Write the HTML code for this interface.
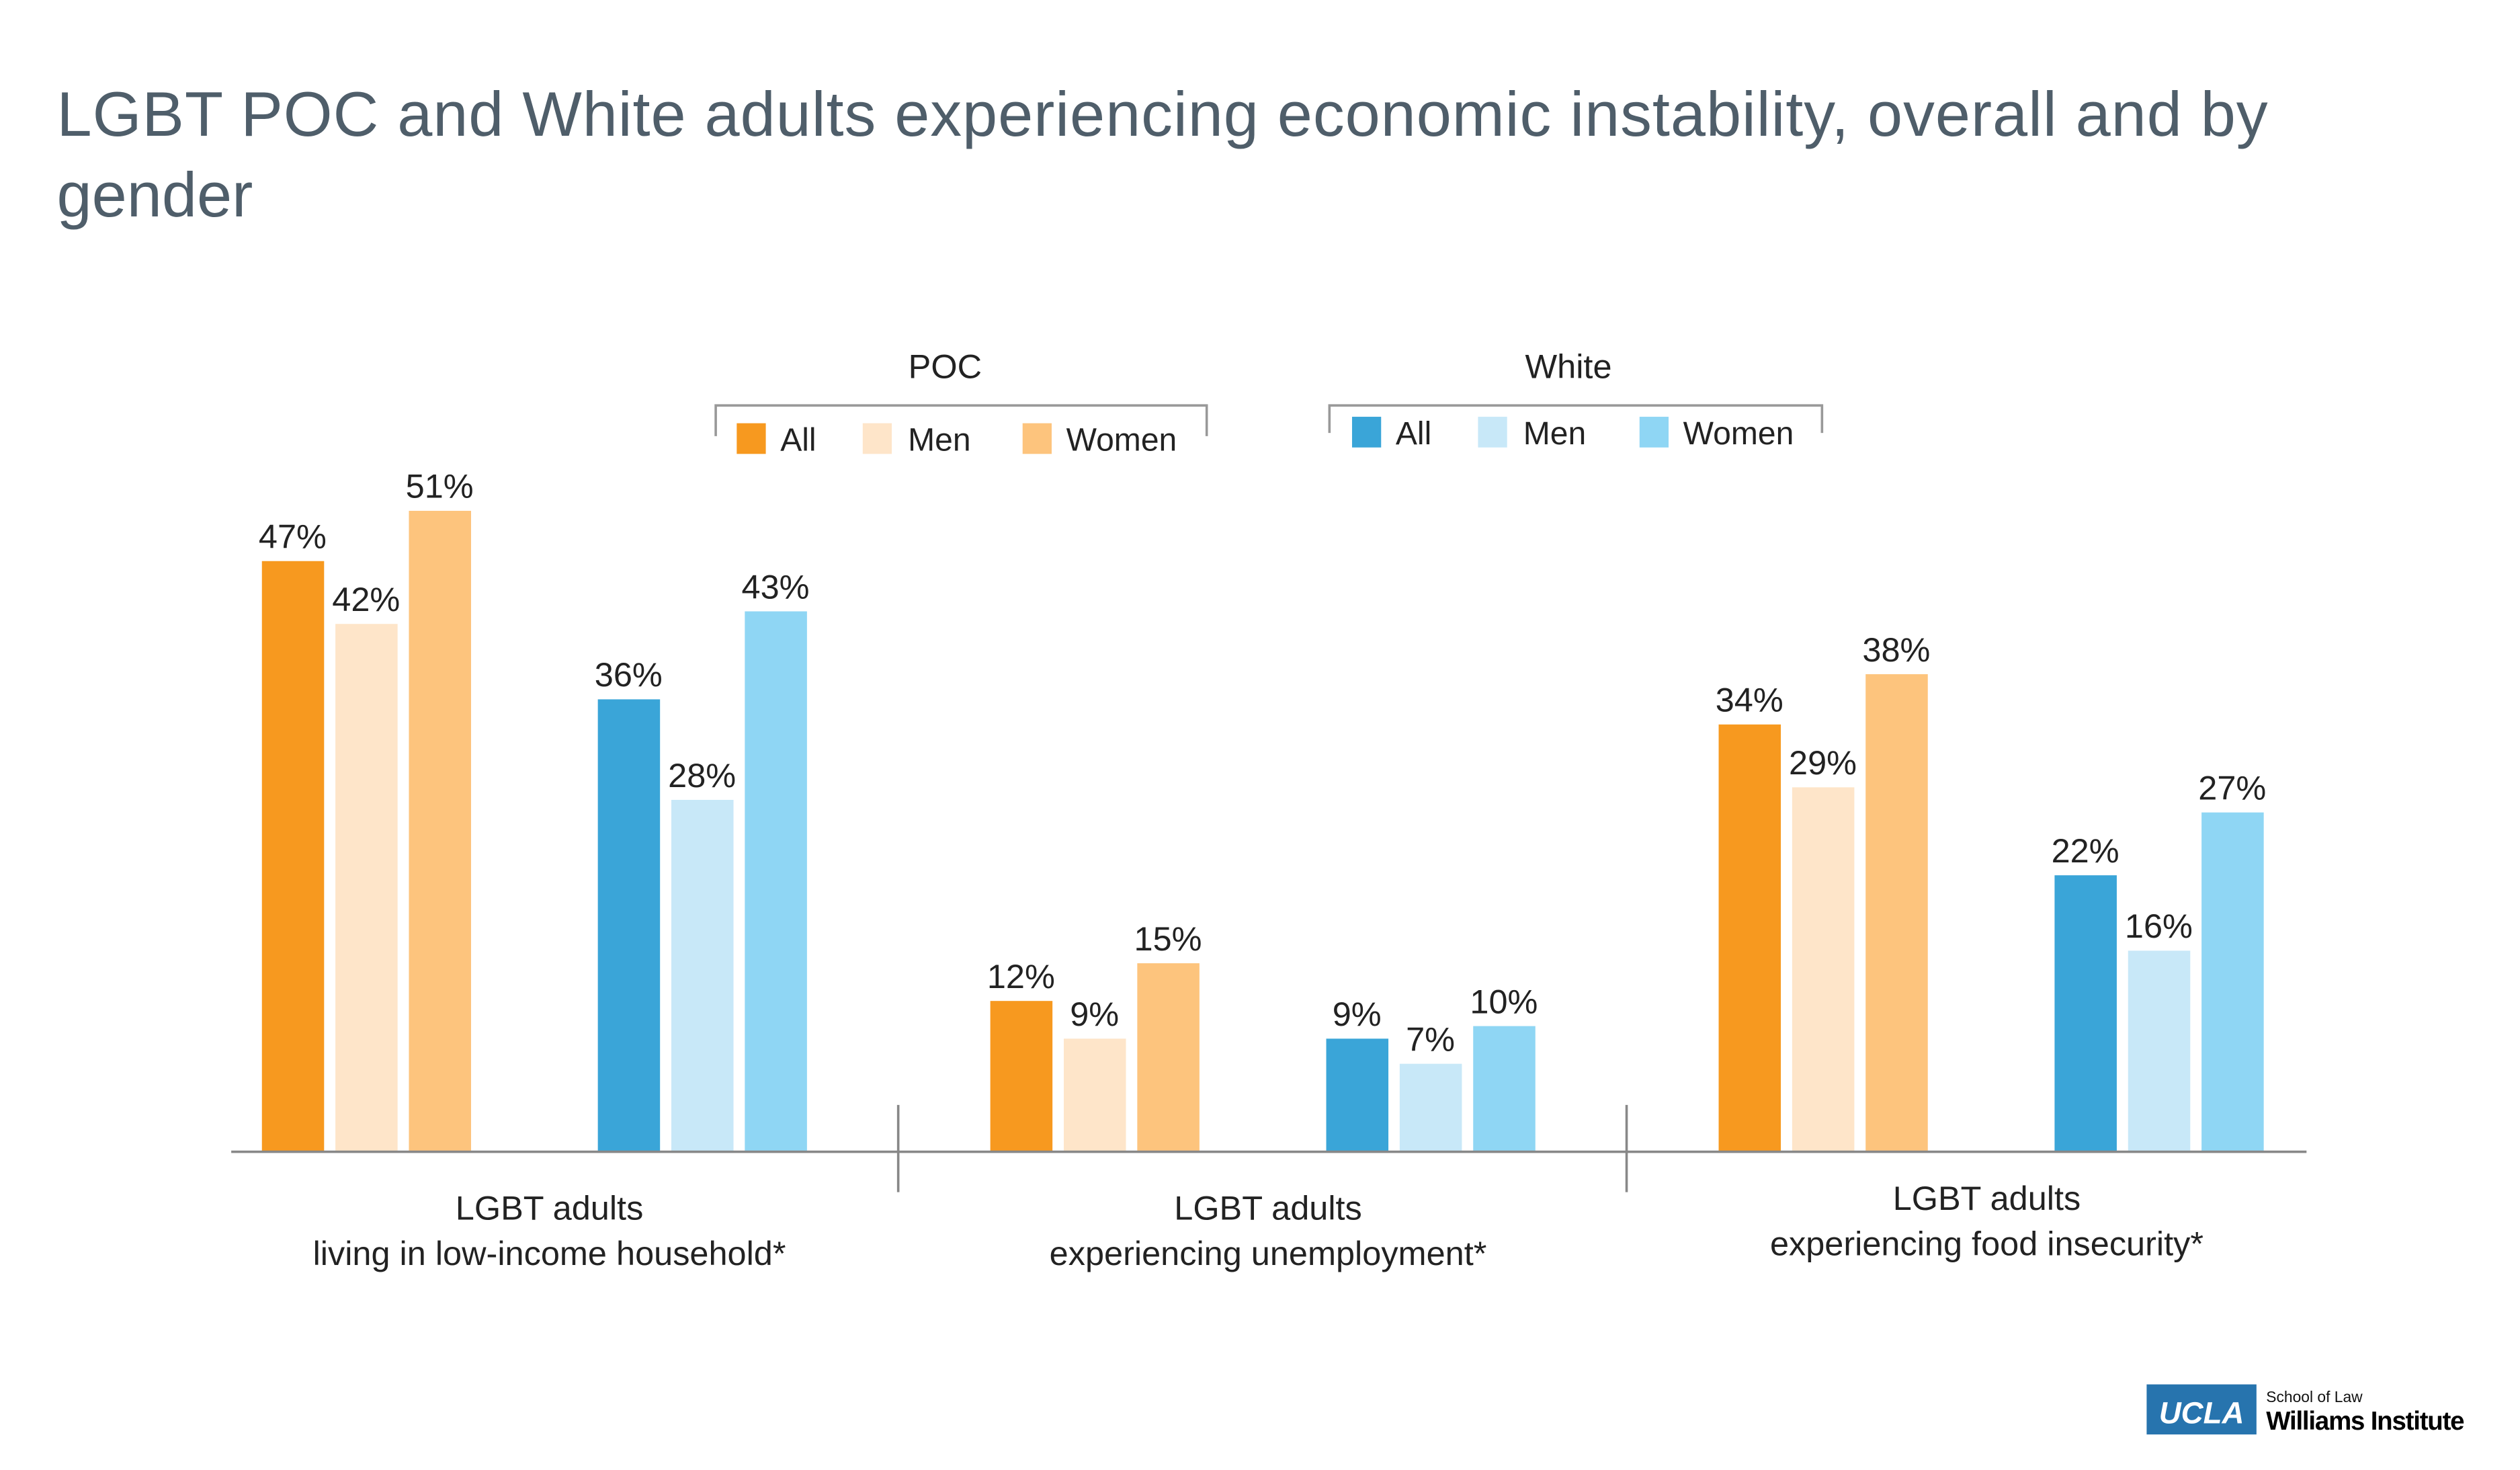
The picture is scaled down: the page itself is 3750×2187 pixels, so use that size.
<!DOCTYPE html>
<html><head><meta charset="utf-8"><style>
html,body{margin:0;padding:0;background:#fff;}
svg{display:block;font-family:"Liberation Sans",sans-serif;}
</style></head><body>
<svg id="chart" width="3750" height="2187" viewBox="0 0 1560 910" xmlns="http://www.w3.org/2000/svg">
<text x="35" y="84" font-size="39" fill="#4f5e6a" textLength="1369" lengthAdjust="spacing">LGBT POC and White adults experiencing economic instability, overall and by</text>
<text x="35" y="134" font-size="39" fill="#4f5e6a">gender</text>
<g>
<text x="585" y="234" font-size="21" text-anchor="middle" fill="#222">POC</text>
<path d="M443,270 V251 H747 V270" fill="none" stroke="#999" stroke-width="1.5"/>
<rect x="456" y="262" width="18" height="19" fill="#f7991f"/><text x="483" y="279" font-size="20" fill="#222">All</text>
<rect x="534" y="262" width="18" height="19" fill="#fee5c9"/><text x="562" y="279" font-size="20" fill="#222">Men</text>
<rect x="633" y="262" width="18" height="19" fill="#fdc47d"/><text x="660" y="279" font-size="20" fill="#222">Women</text>
</g>
<g>
<text x="971" y="234" font-size="21" text-anchor="middle" fill="#222">White</text>
<path d="M823,268 V251 H1128 V268" fill="none" stroke="#999" stroke-width="1.5"/>
<rect x="837" y="258" width="18" height="19" fill="#3aa5d8"/><text x="864" y="275" font-size="20" fill="#222">All</text>
<rect x="915" y="258" width="18" height="19" fill="#c8e8f8"/><text x="943" y="275" font-size="20" fill="#222">Men</text>
<rect x="1015" y="258" width="18" height="19" fill="#8fd6f4"/><text x="1042" y="275" font-size="20" fill="#222">Women</text>
</g>
<g id="bars"></g>
<line x1="143" y1="713" x2="1428" y2="713" stroke="#888" stroke-width="1.5"/>
<line x1="556" y1="684" x2="556" y2="738" stroke="#888" stroke-width="1.5"/>
<line x1="1007" y1="684" x2="1007" y2="738" stroke="#888" stroke-width="1.5"/>
<g font-size="21" fill="#222" text-anchor="middle">
<text x="340" y="755">LGBT adults<tspan x="340" dy="28">living in low-income household*</tspan></text>
<text x="785" y="755">LGBT adults<tspan x="785" dy="28">experiencing unemployment*</tspan></text>
<text x="1230" y="749">LGBT adults<tspan x="1230" dy="28">experiencing food insecurity*</tspan></text>
</g>
<g>
<rect x="1329" y="857" width="68" height="31" fill="#2774ae"/>
<text x="1363" y="881" font-size="19" font-weight="bold" font-style="italic" fill="#fff" text-anchor="middle">UCLA</text>
<text x="1403" y="868" font-size="9.5" fill="#111">School of Law</text>
<text x="1403" y="885" font-size="16" font-weight="bold" fill="#000" letter-spacing="-0.5">Williams Institute</text>
</g>
</svg>
<script>
const categories = ["low-income", "unemployment", "food-insecurity"];
const series = ["poc-all", "poc-men", "poc-women", "white-all", "white-men", "white-women"];
const pocAll = [47, 12, 34];
const pocMen = [42, 9, 29];
const pocWomen = [51, 15, 38];
const whiteAll = [36, 9, 22];
const whiteMen = [28, 7, 16];
const whiteWomen = [43, 10, 27];
const labelsPct = ["%"];

const NS = "http://www.w3.org/2000/svg";
const colors = ["#f7991f", "#fee5c9", "#fdc47d", "#3aa5d8", "#c8e8f8", "#8fd6f4"];
const values = [pocAll, pocMen, pocWomen, whiteAll, whiteMen, whiteWomen];
const baseY = 713, perUnit = 7.78;
function yScale(v) { return baseY - v * perUnit; }
function xScale(ci, si) {
  const groupStart = 162 + ci * 451;
  const sub = si < 3 ? 0 : 208;
  return groupStart + sub + (si % 3) * 45.5;
}
const g = document.getElementById("bars");
values.forEach((arr, si) => {
  arr.forEach((v, ci) => {
    const x = xScale(ci, si), y = yScale(v);
    const r = document.createElementNS(NS, "rect");
    r.setAttribute("x", x); r.setAttribute("y", y);
    r.setAttribute("width", 38.5); r.setAttribute("height", baseY - y);
    r.setAttribute("fill", colors[si]);
    
    
    g.appendChild(r);
    const t = document.createElementNS(NS, "text");
    t.setAttribute("x", x + 19); t.setAttribute("y", y - 8);
    t.setAttribute("font-size", "21"); t.setAttribute("fill", "#222");
    t.setAttribute("text-anchor", "middle");
    t.textContent = v + labelsPct[0];
    
    
    g.appendChild(t);
  });
});
</script>
</body></html>
